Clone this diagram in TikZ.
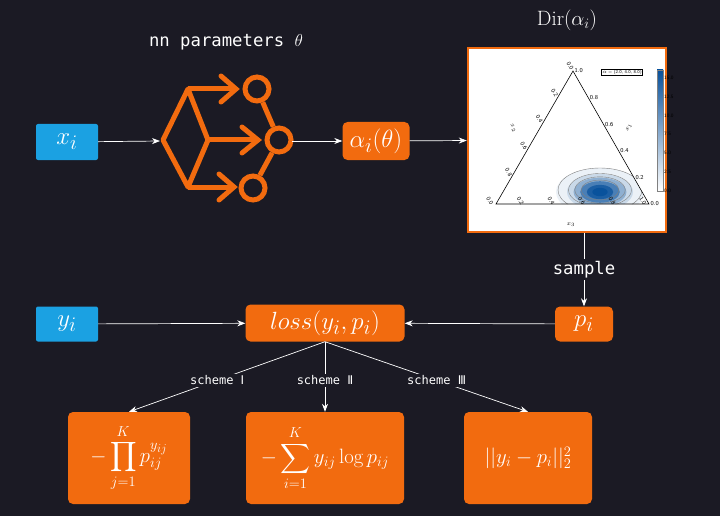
\documentclass[tikz,border=0pt]{standalone}
\usepackage{amsmath}
\usepackage{fontspec}
\setmonofont{DejaVu Sans Mono}
\newfontfamily\symfont{DejaVu Sans}
\usetikzlibrary{arrows.meta,positioning,calc}
\definecolor{bg}{HTML}{1B1A24}
\definecolor{nnorange}{HTML}{F26B0F}
\definecolor{boxblue}{HTML}{1BA1E2}
\definecolor{plotblue}{HTML}{08519C}
\tikzset{
  inbox/.style={draw=none, fill=boxblue, rounded corners=2pt, text=white, minimum width=62pt, minimum height=36pt, font=\Huge},
  outbox/.style={draw=none, fill=nnorange, rounded corners=5pt, text=white, font=\Huge},
  conn/.style={draw=white, -{Stealth[length=8pt]}, line width=0.7pt},
  nnline/.style={draw=nnorange, line width=5pt},
  lbl/.style={fill=bg, text=white, font=\ttfamily\large, inner sep=2pt}
}
\begin{document}
\begin{tikzpicture}[x=1pt,y=-1pt]
    % Background
    \fill[bg] (0,0) rectangle (720,516);
    \useasboundingbox (0,0) rectangle (720,516);
    % Top row
    \node[text=white, font=\ttfamily\LARGE] (nntitle) at (226,42) {nn parameters $\theta$};
    \node[inbox] (xi) at (67,142) {$x_i$};
    \coordinate (nnin) at (160,141);
    \draw[nnline, line join=round] (163,140) -- (188,89) -- (208,140) -- (188,187) -- cycle;
    \draw[nnline] (188,89) -- (236,89);
    \draw[nnline] (208,140) -- (258,140);
    \draw[nnline] (188,187) -- (234,187);
    \draw[nnline, line cap=round] (221,76) -- (236,89) -- (221,102);
    \draw[nnline, line cap=round] (242,127) -- (258,140) -- (242,153);
    \draw[nnline, line cap=round] (219,174) -- (234,187) -- (219,200);
    \node[circle, draw=nnorange, line width=5pt, minimum size=24pt, inner sep=0pt] (c1) at (257,89) {};
    \node[circle, draw=nnorange, line width=5pt, minimum size=24pt, inner sep=0pt] (c2) at (279,140) {};
    \node[circle, draw=nnorange, line width=5pt, minimum size=24pt, inner sep=0pt] (c3) at (253,188) {};
    \draw[nnline] (c1) -- (c2);
    \draw[nnline] (c2) -- (c3);
    \coordinate (nnout) at (292,141);
    \node[outbox, minimum width=67pt, minimum height=38pt] (alpha) at (376,141) {$\alpha_i(\theta)$};
    \draw[conn] (xi) -- (nnin);
    \draw[conn] (nnout) -- (alpha);
    % Dirichlet plot
    \node[text=white, font=\huge] (dirtitle) at (567,20) {$\mathrm{Dir}(\alpha_i)$};
    \node[draw=nnorange, line width=2.5pt, fill=white, minimum width=198pt, minimum height=184pt, inner sep=0pt] (plot) at (567,140) {};
    \draw[conn] (alpha) -- (plot);
    \begin{scope}
      \clip (573,71) -- (496,204) -- (649,204) -- cycle;
      \foreach \r/\op in {40/0.08, 30/0.15, 24/0.3, 18/0.5, 12/0.7, 7/0.9}
        \fill[plotblue, opacity=\op] (600,192) ellipse ({\r*1.1pt} and {\r*0.6pt});
      \foreach \r in {40,30,24,18}
        \draw[gray, line width=0.4pt] (600,190) ellipse ({\r*1.05pt} and {\r*0.55pt});
    \end{scope}
    \draw[black, line width=0.6pt] (573,71) -- (496,204) -- (649,204) -- cycle;
    \foreach \t/\lab in {0/1.0, 0.2/0.8, 0.4/0.6, 0.6/0.4, 0.8/0.2, 1/0.0}
      \node[font=\fontsize{6}{6}\selectfont\sffamily, anchor=west, inner sep=1.5pt] at ($(573,71)!\t!(649,204)$) {\lab};
    \foreach \t/\lab in {0/0.0, 0.2/0.2, 0.4/0.4, 0.6/0.6, 0.8/0.8, 1/1.0}
      \node[font=\fontsize{6}{6}\selectfont\sffamily, anchor=north east, rotate=-60, inner sep=1.5pt] at ($(496,204)!\t!(649,204)$) {\lab};
    \foreach \t/\lab in {0.2/0.8, 0.4/0.6, 0.6/0.4, 0.8/0.2, 1/0.0}
      \node[font=\fontsize{6}{6}\selectfont\sffamily, anchor=east, rotate=-60, inner sep=1.5pt] at ($(496,204)!\t!(573,71)$) {\lab};
    \node[font=\fontsize{6}{6}\selectfont] at (571,225) {$x_3$};
    \node[font=\fontsize{6}{6}\selectfont, rotate=-60] at (513,128) {$x_2$};
    \node[font=\fontsize{6}{6}\selectfont, rotate=60] at (629,128) {$x_1$};
    \node[draw=black, font=\fontsize{4.5}{5}\selectfont\sffamily, inner sep=1pt, fill=white] at (622,72) {$\alpha$ = (2.0, 4.0, 8.0)};
    \shade[top color=plotblue, bottom color=white, draw=gray, line width=0.3pt] (657,70) rectangle (663,191);
    \foreach \y/\v in {0/15.0, 1/12.5, 2/10.0, 3/7.5, 4/5.0, 5/2.5, 6/0.0}
      \node[font=\fontsize{5}{5}\selectfont\sffamily, anchor=west, inner sep=1pt] at (663,{78+\y*18.8}) {\v};
    % Middle row
    \node[inbox, minimum height=35pt] (yi) at (67,324) {$y_i$};
    \node[outbox, minimum width=159pt, minimum height=37pt] (loss) at (325,323) {$loss(y_i,p_i)$};
    \node[outbox, minimum width=58pt, minimum height=35pt] (pi) at (584,324) {$p_i$};
    \draw[conn] (plot.south -| pi) -- node[lbl, font=\ttfamily\LARGE] (sample) {sample} (pi);
    \draw[conn] (yi) -- (loss);
    \draw[conn] (pi) -- (loss);
    % Schemes
    \node[outbox, font=\huge, minimum width=122pt, minimum height=92pt] (s1) at (129,458) {$\displaystyle -\prod_{j=1}^{K} p_{ij}^{y_{ij}}$};
    \node[outbox, font=\huge, minimum width=158pt, minimum height=92pt] (s2) at (325,458) {$\displaystyle -\sum_{i=1}^{K} y_{ij}\log p_{ij}$};
    \node[outbox, font=\huge, minimum width=128pt, minimum height=92pt] (s3) at (528,458) {$||y_i-p_i||_2^2$};
    \draw[conn] (loss.south) -- node[lbl, pos=0.55] (l1) {scheme {\symfont Ⅰ}} (s1.north);
    \draw[conn] (loss.south) -- node[lbl, pos=0.55] (l2) {scheme {\symfont Ⅱ}} (s2.north);
    \draw[conn] (loss.south) -- node[lbl, pos=0.55] (l3) {scheme {\symfont Ⅲ}} (s3.north);
\end{tikzpicture}
\end{document}
